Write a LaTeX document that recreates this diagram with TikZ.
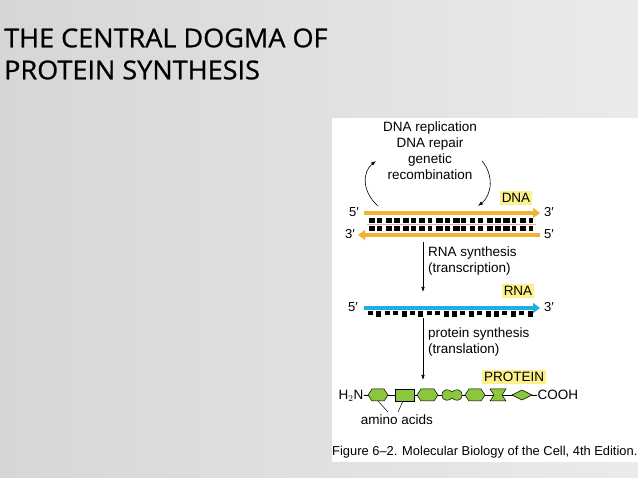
\documentclass[tikz,border=0pt]{standalone}
\usepackage{fontspec}
\setmainfont{Liberation Sans}
\newfontfamily\titlefont[FakeBold=0.8]{Open Sans}
\usetikzlibrary{arrows.meta,shapes.geometric}
\definecolor{dnaor}{HTML}{F2B233}
\definecolor{rnabl}{HTML}{1EAEE6}
\definecolor{labyel}{HTML}{FBF08A}
\definecolor{aagreen}{HTML}{8CC63F}
\definecolor{pinkl}{HTML}{F2A7A0}
\tikzset{
  lab/.style={font=\fontsize{13.5}{16}\selectfont, inner sep=0pt},
  ylab/.style={font=\fontsize{13.5}{16}\selectfont, fill=labyel, inner sep=2pt},
  prime/.style={font=\fontsize{13}{15}\selectfont, inner sep=0pt},
  aa/.style={draw=black, fill=aagreen, line width=0.5pt},
  stepline/.style={-{Latex[length=5pt,width=3.5pt]}, line width=0.6pt},
}
\begin{document}
\begin{tikzpicture}[x=1pt,y=-1pt]
\useasboundingbox (0,0) rectangle (638,478);
\shade[left color=black!16, right color=black!8] (0,0) rectangle (638,478);
\node[anchor=west, inner sep=0pt, align=left, font=\titlefont\fontsize{26}{32}\selectfont, xscale=1.04] (title) at (4,54) {THE CENTRAL DOGMA OF\\PROTEIN SYNTHESIS};
\fill[white] (332,118) rectangle (638,462);
% top text
\node[lab, align=center] (proc) at (430,151) {DNA replication\\DNA repair\\genetic\\recombination};
\coordinate (la) at (378,206); \coordinate (lb) at (376,161);
\coordinate (ra) at (482,161); \coordinate (rb) at (478,206);
\draw[stepline] (la) .. controls (362,192) and (362,172) .. (lb);
\draw[stepline] (ra) .. controls (494,175) and (492,195) .. (rb);
\node[ylab] (dnal) at (516,198) {DNA};
% DNA
\foreach \i in {0,...,19}{
  \pgfmathsetmacro{\xx}{369+\i*8.4}
  \pgfmathsetmacro{\w}{mod(\i,3)==0 ? 5.5 : (mod(\i,2)==0 ? 6.5 : 4.5)}
  \fill[black] (\xx,218) rectangle ++(\w,5);
  \fill[black] (\xx,226) rectangle ++(\w,5);
}
\draw[pinkl, line width=1pt] (367,224.5) -- (536,224.5);
\coordinate (d1a) at (364,213); \coordinate (d1b) at (540,213);
\coordinate (d2a) at (540,235); \coordinate (d2b) at (358,235);
\draw[dnaor, line width=4pt, -{Triangle[length=7pt,width=10pt]}] (d1a) -- (d1b);
\draw[dnaor, line width=4pt, -{Triangle[length=7pt,width=10pt]}] (d2a) -- (d2b);
\node[prime] (p1) at (354,212) {5′};
\node[prime] (p2) at (549,212) {3′};
\node[prime] (p3) at (350,234) {3′};
\node[prime] (p4) at (549,234) {5′};
% transcription
\coordinate (t1) at (423,242); \coordinate (t2) at (423,292);
\draw[stepline] (t1) -- (t2);
\node[lab, anchor=west, align=left] (tr) at (428,261) {RNA synthesis\\(transcription)};
\node[ylab] (rnal) at (518,291) {RNA};
% RNA
\foreach \i/\h in {0/4,1/6,2/4,3/4,4/6,5/4,6/6,7/4,8/4,9/6,10/6,11/4,12/6,13/4,14/6,15/6,16/4,17/6,18/4,19/6}{
  \fill[black] (368+\i*8.4,311) rectangle ++(5,\h);
}
\coordinate (r1) at (364,308); \coordinate (r2) at (540,308);
\draw[rnabl, line width=4pt, -{Triangle[length=7pt,width=10pt]}] (r1) -- (r2);
\node[prime] (p5) at (353,307) {5′};
\node[prime] (p6) at (549,307) {3′};
% translation
\coordinate (u1) at (423,318); \coordinate (u2) at (423,380);
\draw[stepline] (u1) -- (u2);
\node[lab, anchor=west, align=left] (tl) at (428,342) {protein synthesis\\(translation)};
\node[ylab] (protl) at (514,377) {PROTEIN};
% protein chain
\node[lab, anchor=east] (h2n) at (368,396) {H$_2$N-};
\node[lab, anchor=west] (cooh) at (533,395) {-COOH};
\draw[line width=0.5pt] (367,395) -- (537,395);
\draw[aa] (368,395) -- (372,389) -- (384,389) -- (388,395) -- (384,401) -- (372,401) -- cycle;
\draw[aa] (395,389) rectangle (414,401);
\draw[aa] (417,395) -- (421,389) -- (434,389) -- (438,395) -- (434,401) -- (421,401) -- cycle;
\draw[aa] (442,395) .. controls (442,388) and (450,389) .. (452,392) .. controls (454,389) and (462,388) .. (462,395) .. controls (462,402) and (454,401) .. (452,398) .. controls (450,401) and (442,402) .. (442,395) -- cycle;
\draw[aa] (465,395) -- (469,389) -- (481,389) -- (485,395) -- (481,401) -- (469,401) -- cycle;
\draw[aa] (490,389) -- (506,389) -- (502,395) -- (506,401) -- (490,401) -- (494,395) -- cycle;
\draw[aa] (512,395) -- (522,390) -- (532,395) -- (522,400) -- cycle;
\node[lab] (aal) at (397,420) {amino acids};
\coordinate (a1) at (378,401); \coordinate (a2) at (403,401);
\draw[line width=0.5pt] (a1) -- (388,412);
\draw[line width=0.5pt] (a2) -- (398,412);
\node[lab, anchor=west, font=\fontsize{12.9}{14}\selectfont] (cap) at (332,452) {Figure 6–2. Molecular Biology of the Cell, 4th Edition.};
\end{tikzpicture}
\end{document}
